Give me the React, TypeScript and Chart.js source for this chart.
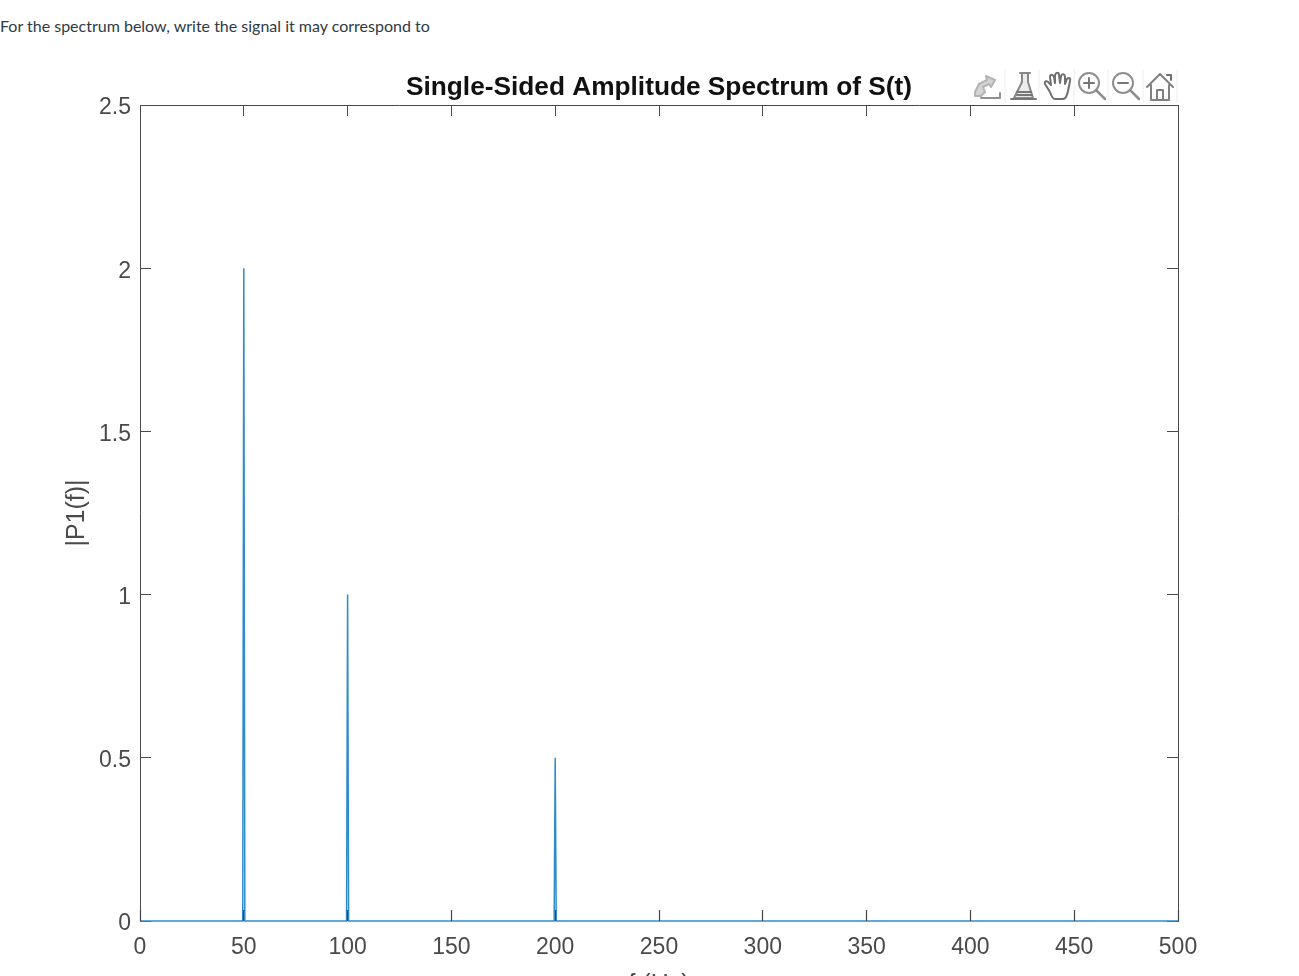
import React, { useEffect, useRef } from "react";
import { Chart, registerables } from "chart.js";

Chart.register(...registerables);

const frequencies = [0, 49.5, 50, 50.5, 99.5, 100, 100.5, 199.5, 200, 200.5, 500];
const amplitudes = [0, 0, 2, 0, 0, 1, 0, 0, 0.5, 0, 0];
const promptText = "For the spectrum below, write the signal it may correspond to";
const chartTitle = "Single-Sided Amplitude Spectrum of S(t)";
const xLabel = "f (Hz)";
const yLabel = "|P1(f)|";

const AXIS = "#4a4a4a";
const LINE = "#2f8ccb";
const FONT = "'Liberation Sans', Arial, sans-serif";

function Icon({ x, children }: { x: number; children: React.ReactNode }) {
  return (
    <g transform={`translate(${x},72)`} fill="none" stroke="#8f8f8f" strokeWidth={2} strokeLinecap="round" strokeLinejoin="round">
      {children}
    </g>
  );
}

function Toolbar() {
  return (
    <svg width={206} height={34} viewBox="972 69 206 34" style={{ position: "absolute", left: 972, top: 69, filter: "blur(0.6px)" }}>
      {[1005, 1039, 1074, 1108, 1143, 1177].map((x) => (
        <line key={x} x1={x} x2={x} y1={69} y2={103} stroke="#eeeeee" strokeWidth={1} />
      ))}
      <Icon x={973}>
        <path d="M2 20 L6 12 L14 8 L13 4 L22 8 L18 15 L16 12 L10 15 L12 20 L8 24 L2 24 Z" fill="#d4d4d4" stroke="#b4b4b4" />
        <path d="M8 26 L26 26 M27 21 L27 26" stroke="#909090" />
      </Icon>
      <Icon x={1009}>
        <path d="M11 1 L21 1 M13 1 L13 10 L5 26 L24 26 L19 10 L19 1" fill="#ececec" stroke="#888888" />
        <path d="M8 20 L22 20 M8 23 L23 23 M2 27 L27 27" stroke="#777777" />
      </Icon>
      <Icon x={1043}>
        <path d="M7 20 L2 12 C1 9 4 8 6 11 L8 13 L7 5 C7 2 10 2 11 5 L12 11 L12 3 C13 0 16 0 16 3 L17 11 L18 4 C19 1 22 2 22 5 L22 12 L24 7 C26 5 28 6 27 9 L25 19 C24 24 22 27 20 27 L12 27 C10 27 8 23 7 20 Z" stroke="#6f6f6f" />
      </Icon>
      <Icon x={1077}>
        <circle cx={12} cy={11} r={10} />
        <path d="M12 6 L12 16 M7 11 L17 11" stroke="#777777" />
        <path d="M19 18 L28 27" strokeWidth={2.5} />
      </Icon>
      <Icon x={1111}>
        <circle cx={12} cy={11} r={10} />
        <path d="M7 11 L17 11" stroke="#777777" />
        <path d="M19 18 L28 27" strokeWidth={2.5} />
      </Icon>
      <Icon x={1146}>
        <path d="M1 15 L14 2 L27 15 M5 13 L5 28 L23 28 L23 13 M11 28 L11 18 L17 18 L17 28" stroke="#808080" />
        <path d="M21 3 L25 3 L25 8" stroke="#707070" />
      </Icon>
    </svg>
  );
}

export default function App() {
  const ref = useRef<HTMLCanvasElement>(null);

  useEffect(() => {
    document.body.style.margin = "0";
    const fix = (size: { w?: number; h?: number }) => (scale: any) => {
      if (size.w !== undefined) scale.width = size.w;
      if (size.h !== undefined) scale.height = size.h;
    };
    const chart = new Chart(ref.current!, {
      type: "scatter",
      data: {
        datasets: [
          {
            label: "|P1(f)|",
            data: frequencies.map((f, i) => ({ x: f, y: amplitudes[i] })),
            showLine: true,
            borderColor: LINE,
            borderWidth: 1.5,
            pointRadius: 0,
            tension: 0,
            clip: 3,
          },
        ],
      },
      options: {
        responsive: false,
        animation: false,
        layout: { padding: 0 },
        plugins: {
          legend: { display: false },
          tooltip: { enabled: false },
          title: {
            display: true,
            text: chartTitle,
            fullSize: false,
            color: "#111111",
            font: { family: FONT, size: 26.25, weight: "bold", lineHeight: 1.2 },
            padding: { top: 72, bottom: 1.5 },
          },
        },
        scales: {
          x: {
            type: "linear",
            position: "bottom",
            min: 0,
            max: 500,
            afterFit: fix({ h: 79 }),
            border: { display: false },
            grid: { drawOnChartArea: false, tickLength: -11, tickColor: "#444444", tickWidth: 1.2, z: 1 },
            ticks: { stepSize: 50, autoSkip: false, maxRotation: 0, padding: 24, color: AXIS, font: { family: FONT, size: 23 } },
            title: { display: true, text: xLabel, color: AXIS, font: { family: FONT, size: 25 }, padding: { top: 4.5, bottom: 0 } },
          },
          x2: {
            type: "linear",
            position: "top",
            min: 0,
            max: 500,
            afterFit: fix({ h: 0 }),
            border: { color: AXIS, width: 1 },
            grid: { drawOnChartArea: false, tickLength: -11, tickColor: AXIS },
            ticks: { stepSize: 50, display: false },
          },
          y: {
            type: "linear",
            position: "left",
            min: 0,
            max: 2.5,
            afterFit: fix({ w: 140 }),
            border: { color: AXIS, width: 1 },
            grid: { drawOnChartArea: false, tickLength: -11, tickColor: AXIS },
            ticks: {
              stepSize: 0.5,
              autoSkip: false,
              padding: 20,
              labelOffset: 3,
              color: AXIS,
              font: { family: FONT, size: 23 },
              callback: (v: any) => String(v),
            },
            title: { display: true, text: yLabel, color: AXIS, font: { family: FONT, size: 25 }, padding: { top: 62, bottom: 0 } },
          },
          y2: {
            type: "linear",
            position: "right",
            min: 0,
            max: 2.5,
            afterFit: fix({ w: 121 }),
            border: { color: AXIS, width: 1 },
            grid: { drawOnChartArea: false, tickLength: -11, tickColor: AXIS },
            ticks: { stepSize: 0.5, display: false },
          },
        },
      },
    });
    return () => chart.destroy();
  }, []);

  return (
    <div style={{ position: "absolute", left: 0, top: 0, width: 1299, height: 976, overflow: "hidden", background: "#ffffff" }}>
      <div style={{ position: "absolute", left: 0, top: 16, whiteSpace: "nowrap", font: "16px Lato, sans-serif", lineHeight: "19px", color: "#2d3b45" }}>
        {promptText}
      </div>
      <canvas ref={ref} width={1299} height={1000} style={{ position: "absolute", left: 0, top: 0, display: "block" }} />
      <Toolbar />
    </div>
  );
}
